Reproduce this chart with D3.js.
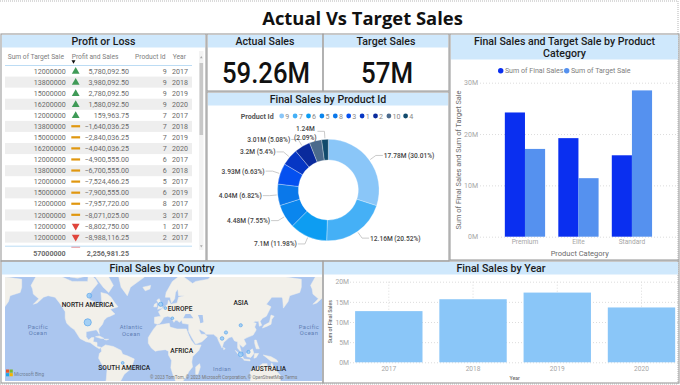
<!DOCTYPE html>
<html>
<head>
<meta charset="utf-8">
<script src="https://cdnjs.cloudflare.com/ajax/libs/d3/7.8.5/d3.min.js"></script>
<style>
    html, body { margin: 0; padding: 0; background: #fff; overflow: hidden; }
    svg { display: block; font-family: Roboto, sans-serif; }
</style>
</head>
<body>
<script>

// table
var tableHeaders = ['Sum of Target Sale', 'Profit and Sales', 'Product Id', 'Year'];
var targetSale = [12000000, 13800000, 15000000, 16200000, 12000000, 13800000, 15000000, 16200000,
                  12000000, 13800000, 12000000, 15000000, 12000000, 12000000, 12000000, 12000000];
var profitSales = [5780092.50, 3980092.50, 2780092.50, 1580092.50, 159963.75, -1640036.25, -2840036.25, -4040036.25,
                   -4900555.00, -6700555.00, -7524466.25, -7900555.00, -7957720.00, -8071025.00, -8802750.00, -8988116.25];
var tableProduct = [9, 9, 9, 9, 7, 7, 7, 7, 6, 6, 5, 6, 8, 3, 1, 2];
var tableYear = [2017, 2018, 2019, 2020, 2017, 2018, 2019, 2020, 2017, 2018, 2017, 2019, 2017, 2017, 2017, 2017];
var totalTarget = '57000000';
var totalProfit = '2,256,981.25';

// donut
var productIds = ['9', '7', '6', '5', '8', '3', '1', '2', '10', '4'];
var productSales = [17.78, 12.16, 7.1, 4.48, 4.04, 3.93, 3.2, 3.01, 2.32, 1.24];
var productPct = ['30.01', '20.52', '11.98', '7.55', '6.82', '6.63', '5.4', '5.08', null, '2.09'];
var productColors = ['#8ac6f8', '#45b0f6', '#0d9df2', '#0a86ee', '#0a78ea', '#0450f0',
                     '#0636c4', '#0a2a9c', '#4b6a8c', '#114a6c'];

// category bars
var categories = ['Premium', 'Elite', 'Standard'];
var categoryFinal = [24.2, 19.2, 15.86];
var categoryTarget = [17.1, 11.4, 28.5];

// year bars
var years = ['2017', '2018', '2019', '2020'];
var yearSales = [12.7, 15.65, 17.3, 13.61];

// map, rough outlines in lon/lat
var landShapes = [
    [[-168,66],[-162,70],[-156,71],[-141,70],[-128,70],[-115,68],[-108,68],[-95,68],[-94,72],[-85,69],[-82,67],[-88,64],[-94,60],[-92,57],[-82,55],[-80,51],[-78,52],[-77,56],[-78,62],[-70,61],[-65,59],[-60,55],[-56,52],[-66,50],[-60,46],[-66,44],[-70,43],[-74,40],[-76,36],[-81,31],[-80,25],[-82,28],[-84,30],[-90,29],[-97,28],[-97,22],[-94,18],[-90,21],[-87,21],[-88,16],[-83,15],[-83,10],[-78,9],[-80,7],[-85,10],[-92,15],[-97,16],[-105,20],[-112,30],[-117,33],[-122,37],[-124,42],[-124,48],[-130,54],[-137,59],[-146,60],[-152,59],[-160,55],[-165,54],[-158,58],[-165,61],[-166,64]],
    [[-73,78],[-60,82],[-30,83],[-18,76],[-22,70],[-40,65],[-44,60],[-52,65],[-55,70]],
    [[-80,73],[-68,70],[-62,66],[-68,62],[-75,65],[-85,70]],
    [[-125,76],[-100,76],[-92,74],[-96,70.5],[-108,69.5],[-118,70],[-124,72]],
    [[-90,76],[-75,76],[-72,72],[-84,71.5]],
    [[-78,8],[-72,12],[-62,10],[-52,5],[-50,0],[-44,-2],[-35,-6],[-37,-12],[-39,-18],[-48,-25],[-53,-33],[-58,-38],[-65,-41],[-68,-50],[-72,-50],[-73,-40],[-71,-30],[-70,-18],[-76,-14],[-81,-5],[-80,1],[-77,4]],
    [[-6,35],[10,37],[11,33],[20,31],[32,31],[35,24],[38,18],[43,12],[51,12],[48,5],[40,-3],[39,-10],[40,-16],[35,-22],[32,-28],[26,-34],[19,-34],[15,-26],[12,-17],[13,-8],[9,-1],[9,4],[5,6],[-4,5],[-8,4],[-13,8],[-17,14],[-17,21],[-13,27],[-10,31]],
    [[-9,37],[-9,43],[-1,44],[-4,48],[2,51],[8,54],[9,57],[12,54],[20,55],[22,59],[30,60],[22,60],[21,64],[24,66],[18,62],[17,58],[13,55],[11,59],[5,59],[6,62],[14,68],[25,71],[40,67],[44,68],[60,69],[68,72],[80,73],[100,77],[113,74],[130,72],[140,73],[160,70],[180,69],[180,65],[178,62],[165,60],[163,56],[157,51],[156,58],[155,59],[142,59],[135,54],[141,52],[135,44],[130,42],[127,39],[129,35],[126,34],[125,39],[121,39],[118,38],[122,37],[120,33],[122,30],[118,24],[110,21],[106,19],[109,13],[105,9],[100,13],[103,2],[98,8],[98,16],[94,17],[91,22],[87,21],[80,15],[78,8],[73,18],[72,21],[67,25],[57,25],[56,27],[50,30],[48,30],[51,25],[56,25],[59,22],[52,16],[44,13],[39,21],[35,28],[35,36],[27,37],[26,40],[23,38],[20,40],[18,40],[16,38],[12,43],[8,44],[3,43],[0,39],[-2,37],[-5,36]],
    [[-5,50],[1,51],[0,54],[-3,58],[-6,57],[-3,54]],
    [[-10,52],[-6,52],[-6,55],[-9,54]],
    [[-24,65],[-14,66],[-15,64],[-21,63]],
    [[130,32],[136,34],[141,36],[142,41],[145,44],[141,45],[139,38],[132,35]],
    [[95,5],[104,-2],[106,-6],[101,-3]],
    [[109,1],[117,7],[119,1],[115,-4],[110,-3]],
    [[106,-6],[114,-7],[114,-8.5],[106,-7.5]],
    [[119,-5],[120,1],[125,1],[122,-4]],
    [[131,-1],[141,-3],[148,-7],[150,-10],[141,-9],[135,-4]],
    [[120,18],[122,18],[124,12],[126,7],[122,7],[120,14]],
    [[114,-22],[122,-18],[130,-12],[136,-12],[136,-15],[140,-17],[142,-11],[146,-19],[153,-26],[153,-38],[115,-38]],
    [[44,-16],[49,-12],[50,-16],[47,-25],[44,-25]],
    [[80,9],[82,7],[80,6]],
    [[-85,22],[-80,23],[-74,20],[-78,20]],
    [[-74,19],[-68,19],[-71,18]]
];
var waterShapes = [
    [[28,42],[31,46],[37,46],[41,42],[35,42]],
    [[47,45],[53,45],[54,38],[50,37],[49,41]]
];
var countryLon = [-95, -93, -1, 5, 14, 102, 83, 78, 102, 112, -50];
var countryLat = [38, 60, 54, 51, 42, 35, 27, 20, 0, 3, -11];
var countrySales = [20, 9, 7, 3, 3, 4, 4, 5, 9, 4, 3];
var mapLabels = [
    {text: 'NORTH AMERICA', lon: -95, lat: 53.6},
    {text: 'EUROPE', lon: 24, lat: 50.5},
    {text: 'ASIA', lon: 102, lat: 55.5},
    {text: 'AFRICA', lon: 26, lat: 5},
    {text: 'SOUTH AMERICA', lon: -48, lat: -16.5},
    {text: 'AUSTRALIA', lon: 138, lat: -18}
];
var oceanLabels = [
    {lines: ['Pacific', 'Ocean'], lon: -159, lat: 30},
    {lines: ['Atlantic', 'Ocean'], lon: -39, lat: 29},
    {lines: ['Indian'], lon: 78, lat: -18},
    {lines: ['Pacific', 'Ocean'], lon: 190, lat: 30}
];

var titleBlue = '#cfe8fc',
    borderGray = '#a3a3a3',
    axisGray = '#a6a6a6',
    textGray = '#6b6b6b',
    gridGray = '#dcdcdc';

var svg = d3.select('body').append('svg')
    .attr('width', 680)
    .attr('height', 385);

svg.append('rect').attr('width', 680).attr('height', 385).attr('fill', '#fff');

// dotted page edge
svg.append('path')
    .attr('d', 'M0,1H678V384H0')
    .attr('fill', 'none')
    .attr('stroke', '#b5b5b5')
    .attr('stroke-dasharray', '1,1');

svg.append('text')
    .attr('x', 362.5)
    .attr('y', 25)
    .attr('text-anchor', 'middle')
    .attr('font-family', '"Open Sans", sans-serif')
    .attr('font-weight', 700)
    .attr('font-size', 18.4)
    .attr('fill', '#111')
    .text('Actual Vs Target Sales');

var panel = function(x, y, w, h, barH, lines) {
    svg.append('rect')
        .attr('x', x + 1).attr('y', y + 1)
        .attr('width', w - 2).attr('height', barH)
        .attr('fill', titleBlue);
    svg.append('rect')
        .attr('x', x).attr('y', y)
        .attr('width', w).attr('height', h)
        .attr('fill', 'none')
        .attr('stroke', borderGray)
        .attr('stroke-width', 1.2);
    lines.forEach(function(t, i) {
        svg.append('text')
            .attr('x', x + w / 2)
            .attr('y', y + 11 + i * 12)
            .attr('text-anchor', 'middle')
            .attr('font-weight', 500)
            .attr('font-size', 10.6)
            .attr('fill', '#1b1b1b')
            .text(t);
    });
};

panel(1, 34, 205, 227, 12.5, ['Profit or Loss']);
panel(207, 34, 116, 57, 12.5, ['Actual Sales']);
panel(323, 34, 126, 57, 12.5, ['Target Sales']);
panel(207, 92, 242, 169, 12.5, ['Final Sales by Product Id']);
panel(450, 34, 229, 226, 24.5, ['Final Sales and Target Sale by Product', 'Category']);
panel(1, 261, 322, 122, 12.5, ['Final Sales by Country']);
panel(323, 261, 356, 122, 12.5, ['Final Sales by Year']);

/** kpi cards **/

var kpi = function(x, label, len) {
    svg.append('text')
        .attr('x', x).attr('y', 83)
        .attr('text-anchor', 'middle')
        .attr('font-weight', 500)
        .attr('font-size', 29.5)
        .attr('textLength', len)
        .attr('lengthAdjust', 'spacingAndGlyphs')
        .attr('fill', '#111')
        .text(label);
};
kpi(266, '59.26M', 88);
kpi(387, '57M', 52);

/** table **/

var drawTable = function() {
    var rowY = d3.scaleLinear().domain([0, 1]).range([71, 82.07]),
        fmt = d3.format(',.2f'),
        cols = [65.7, 129, 166.7, 188];

    var g = svg.append('g')
        .attr('font-size', 7.1)
        .attr('fill', textGray);

    var headerX = [7.7, 71.7, 135, 172.7];
    tableHeaders.forEach(function(h, i) {
        g.append('text').attr('x', headerX[i]).attr('y', 58.5)
            .attr('font-size', 6.7).attr('fill', '#808080').text(h);
    });
    g.append('path')
        .attr('d', d3.symbol(d3.symbolTriangle, 7)())
        .attr('transform', 'translate(73.5,61.5) rotate(180)')
        .attr('fill', '#111');
    g.append('line')
        .attr('x1', 5).attr('x2', 192).attr('y1', 65.5).attr('y2', 65.5)
        .attr('stroke', '#bcdcf4');

    var rows = g.selectAll('.row')
        .data(targetSale)
        .enter().append('g')
        .attr('class', 'row')
        .attr('transform', function(d, i) { return 'translate(0,' + rowY(i) + ')'; });

    rows.filter(function(d, i) { return i % 2 === 1; })
        .append('rect')
        .attr('x', 5).attr('y', -5.5)
        .attr('width', 187).attr('height', 11.07)
        .attr('fill', '#eeeeee');

    rows.append('text')
        .attr('x', cols[0]).attr('y', 2.6).attr('text-anchor', 'end')
        .text(function(d) { return d; });
    rows.append('text')
        .attr('x', cols[1]).attr('y', 2.6).attr('text-anchor', 'end')
        .text(function(d, i) { return fmt(profitSales[i]); });
    rows.append('text')
        .attr('x', cols[2]).attr('y', 2.6).attr('text-anchor', 'end')
        .text(function(d, i) { return tableProduct[i]; });
    rows.append('text')
        .attr('x', cols[3]).attr('y', 2.6).attr('text-anchor', 'end')
        .text(function(d, i) { return tableYear[i]; });

    // status icon comes from the profit value
    rows.each(function(d, i) {
        var v = profitSales[i], row = d3.select(this);
        if (v > 0) {
            row.append('path')
                .attr('d', d3.symbol(d3.symbolTriangle, 26)())
                .attr('transform', 'translate(75.7,0.5)')
                .attr('fill', '#3f9a57');
        } else if (v > -8500000) {
            row.append('rect')
                .attr('x', 71.3).attr('y', -1.2)
                .attr('width', 8.8).attr('height', 2.2)
                .attr('fill', '#e0970f');
        } else {
            row.append('path')
                .attr('d', d3.symbol(d3.symbolTriangle, 26)())
                .attr('transform', 'translate(75.7,0) rotate(180)')
                .attr('fill', '#e0453c');
        }
    });

    // top of the next row's icon shows under the last row
    g.append('rect')
        .attr('x', 71.3).attr('y', 246.5)
        .attr('width', 8.8).attr('height', 1)
        .attr('fill', '#d9606a');

    g.append('line')
        .attr('x1', 5).attr('x2', 192).attr('y1', 246.2).attr('y2', 246.2)
        .attr('stroke', '#bcdcf4');

    g.append('text').attr('x', cols[0]).attr('y', 255.5).attr('text-anchor', 'end')
        .attr('font-weight', 700).text(totalTarget);
    g.append('text').attr('x', cols[1]).attr('y', 255.5).attr('text-anchor', 'end')
        .attr('font-weight', 700).text(totalProfit);

    // scrollbar
    g.append('rect').attr('x', 199).attr('y', 51).attr('width', 4.5).attr('height', 199)
        .attr('fill', '#f3f3f3');
    g.append('rect').attr('x', 199.5).attr('y', 63).attr('width', 3.6).attr('height', 72)
        .attr('fill', '#c8c8c8');
    g.append('path')
        .attr('d', d3.symbol(d3.symbolTriangle, 3)())
        .attr('transform', 'translate(201.3,57.5)')
        .attr('fill', '#aaa');
    g.append('path')
        .attr('d', d3.symbol(d3.symbolTriangle, 3)())
        .attr('transform', 'translate(201.3,246) rotate(180)')
        .attr('fill', '#aaa');
};
drawTable();

/** donut **/

var drawDonut = function() {
    var cx = 328.3, cy = 190, outer = 50.8, inner = 30;

    var pie = d3.pie().sort(null).value(function(d) { return d; });
    var arc = d3.arc().innerRadius(inner).outerRadius(outer);
    var arcs = pie(productSales);

    var g = svg.append('g').attr('transform', 'translate(' + cx + ',' + cy + ')');

    g.selectAll('.slice')
        .data(arcs)
        .enter().append('path')
        .attr('class', 'slice')
        .attr('d', arc)
        .attr('fill', function(d, i) { return productColors[i]; })
        .attr('stroke', '#fff')
        .attr('stroke-width', 0.3);

    var polar = function(a, r) { return [Math.sin(a) * r, -Math.cos(a) * r]; };

    arcs.forEach(function(d, i) {
        if (productPct[i] === null) return;
        var mid = (d.startAngle + d.endAngle) / 2,
            p0 = polar(mid, outer + 1),
            p1 = polar(mid, outer + 8),
            side = p1[0] >= 0 ? 1 : -1,
            two = (i === productIds.length - 1),
            p2 = [p1[0] + side * 7, p1[1]];

        g.append('path')
            .attr('d', d3.line()([p0, p1, two ? [p1[0] - 7, p1[1]] : p2]))
            .attr('fill', 'none')
            .attr('stroke', '#bdbdbd')
            .attr('stroke-width', 0.8);

        var t = g.append('text')
            .attr('font-size', 6.6)
            .attr('font-weight', 500)
            .attr('fill', '#444');
        var label = productSales[i] + 'M', pct = '(' + productPct[i] + '%)';

        if (two) {
            t.attr('text-anchor', 'middle');
            t.append('tspan').attr('x', -23).attr('y', p1[1] - 0.5).text(label);
            t.append('tspan').attr('x', -23).attr('y', p1[1] + 8.5).text(pct);
        } else {
            t.attr('x', side > 0 ? p2[0] + 1 : p2[0] - 1)
                .attr('y', p2[1] + 2.5)
                .attr('text-anchor', side > 0 ? 'start' : 'end')
                .text(label + ' ' + pct);
        }
    });

    var lg = svg.append('g').attr('font-size', 7.1);
    lg.append('text').attr('x', 240.7).attr('y', 118.5)
        .attr('font-weight', 700).attr('fill', '#555').text('Product Id');
    // each key is as wide as its label
    var keyX = 281.7;
    productIds.forEach(function(id, i) {
        var item = lg.append('g').attr('transform', 'translate(' + keyX + ',116)');
        item.append('circle').attr('r', 2.4).attr('fill', productColors[i]);
        item.append('text').attr('x', 3.6).attr('y', 2.5).attr('fill', '#888').text(id);
        keyX += 10.1 + 3.3 * id.length;
    });
};
drawDonut();

var styleAxis = function(sel, size) {
    sel.select('.domain').remove();
    sel.selectAll('line').attr('stroke', gridGray).attr('stroke-dasharray', '1,2');
    sel.selectAll('text')
        .attr('fill', axisGray)
        .attr('font-size', size)
        .attr('font-family', 'Roboto, sans-serif');
};

/** grouped bars **/

var drawCategoryBars = function() {
    var x = d3.scaleBand().domain(categories).range([498.2, 658.7]).paddingInner(0.247).paddingOuter(0.124),
        y = d3.scaleLinear().domain([0, 30]).range([236.7, 82.7]),
        inner = d3.scaleBand().domain([0, 1]).range([0, x.bandwidth()]);

    svg.append('g')
        .attr('transform', 'translate(480,0)')
        .call(d3.axisLeft(y).tickValues([0, 10, 20, 30]).tickSize(-196).tickPadding(2)
            .tickFormat(function(d) { return d + 'M'; }))
        .call(styleAxis, 7);

    svg.append('g')
        .attr('transform', 'translate(0,236.7)')
        .call(d3.axisBottom(x).tickSize(0).tickPadding(3))
        .call(styleAxis, 6.6);

    [categoryFinal, categoryTarget].forEach(function(series, s) {
        svg.selectAll('.cat' + s)
            .data(series)
            .enter().append('rect')
            .attr('class', 'cat' + s)
            .attr('x', function(d, i) { return x(categories[i]) + inner(s); })
            .attr('width', inner.bandwidth())
            .attr('y', function(d) { return y(d); })
            .attr('height', function(d) { return y(0) - y(d); })
            .attr('fill', s === 0 ? '#0a2ff0' : '#5591ef');
    });

    svg.append('text').attr('x', 579.7).attr('y', 255.5)
        .attr('text-anchor', 'middle').attr('font-size', 7.5).attr('fill', textGray)
        .text('Product Category');
    svg.append('text')
        .attr('transform', 'translate(460.5,160) rotate(-90)')
        .attr('text-anchor', 'middle').attr('font-size', 7.4).attr('fill', textGray)
        .text('Sum of Final Sales and Sum of Target Sale');

    var keys = [
        {name: 'Sum of Final Sales', x: 500.7, color: '#0a2ff0'},
        {name: 'Sum of Target Sale', x: 566.7, color: '#5591ef'}
    ];
    keys.forEach(function(k) {
        svg.append('circle').attr('cx', k.x).attr('cy', 70.7).attr('r', 2.7).attr('fill', k.color);
        svg.append('text').attr('x', k.x + 4.2).attr('y', 73.2)
            .attr('font-size', 7.1).attr('fill', '#808080').text(k.name);
    });
};
drawCategoryBars();

/** year bars **/

var drawYearBars = function() {
    var x = d3.scaleBand().domain(years).range([346.7, 683.6]).paddingInner(0.2).paddingOuter(0.1),
        y = d3.scaleLinear().domain([0, 20]).range([362.3, 281.7]);

    svg.append('g')
        .attr('transform', 'translate(350,0)')
        .call(d3.axisLeft(y).ticks(4).tickSize(-328).tickPadding(1)
            .tickFormat(function(d) { return d + 'M'; }))
        .call(styleAxis, 6.8);

    svg.append('g')
        .attr('transform', 'translate(0,362.3)')
        .call(d3.axisBottom(x).tickSize(80.6).tickPadding(-74))
        .call(function(sel) {
            sel.select('.domain').remove();
            sel.selectAll('line')
                .attr('transform', 'translate(0,-80.6)')
                .attr('stroke', gridGray).attr('stroke-dasharray', '1,2');
            sel.selectAll('text')
                .attr('y', 4).attr('dy', '0.71em')
                .attr('fill', axisGray).attr('font-size', 6.6)
                .attr('font-family', 'Roboto, sans-serif');
        });

    svg.selectAll('.yearbar')
        .data(yearSales)
        .enter().append('rect')
        .attr('class', 'yearbar')
        .attr('x', function(d, i) { return x(years[i]); })
        .attr('width', x.bandwidth())
        .attr('y', function(d) { return y(d); })
        .attr('height', function(d) { return y(0) - y(d); })
        .attr('fill', '#8ac6f8');

    svg.append('text').attr('x', 514.7).attr('y', 379.5)
        .attr('text-anchor', 'middle').attr('font-size', 5.2).attr('font-weight', 500)
        .attr('fill', textGray).text('Year');
    svg.append('text')
        .attr('transform', 'translate(332,321.7) rotate(-90)')
        .attr('text-anchor', 'middle').attr('font-size', 5.2).attr('font-weight', 500)
        .attr('fill', textGray).text('Sum of Final Sales');
};
drawYearBars();

/** map **/

var drawMap = function() {
    var left = 5, top = 277, w = 317, h = 104;

    var mapX = d3.scaleLinear().domain([-180, 180]).range([161.5 - 139.8, 161.5 + 139.8]);
    var mercator = function(lat) { return Math.log(Math.tan(Math.PI / 4 + lat * Math.PI / 360)); };
    var mapY = d3.scaleLinear().domain([0, 1]).range([354.3, 354.3 - 44.5]);
    var line = d3.line()
        .x(function(d) { return mapX(d[0]); })
        .y(function(d) { return mapY(mercator(d[1])); })
        .curve(d3.curveLinearClosed);

    svg.append('clipPath').attr('id', 'mapclip')
        .append('rect').attr('x', left).attr('y', top).attr('width', w).attr('height', h);

    var g = svg.append('g').attr('clip-path', 'url(#mapclip)');

    g.append('rect').attr('x', left).attr('y', top).attr('width', w).attr('height', h)
        .attr('fill', '#abc6ef');

    // the world repeats either side of the view
    [-279.6, 0, 279.6].forEach(function(dx) {
        var world = g.append('g').attr('transform', 'translate(' + dx + ',0)');
        world.selectAll('.land')
            .data(landShapes)
            .enter().append('path')
            .attr('class', 'land')
            .attr('d', line)
            .attr('fill', '#f2f0ea')
            .attr('stroke', '#f2f0ea')
            .attr('stroke-width', 0.5)
            .attr('stroke-linejoin', 'round');
        world.selectAll('.water')
            .data(waterShapes)
            .enter().append('path')
            .attr('class', 'water')
            .attr('d', line)
            .attr('fill', '#abc6ef');
    });

    var r = d3.scaleSqrt().domain([0, 20]).range([0, 3.6]);
    g.selectAll('.bubble')
        .data(countrySales)
        .enter().append('circle')
        .attr('class', 'bubble')
        .attr('cx', function(d, i) { return mapX(countryLon[i]); })
        .attr('cy', function(d, i) { return mapY(mercator(countryLat[i])); })
        .attr('r', function(d) { return r(d); })
        .attr('fill', '#8ac6f8')
        .attr('fill-opacity', 0.75)
        .attr('stroke', '#5ea6ea')
        .attr('stroke-width', 0.7);

    g.selectAll('.continent')
        .data(mapLabels)
        .enter().append('text')
        .attr('class', 'continent')
        .attr('x', function(d) { return mapX(d.lon); })
        .attr('y', function(d) { return mapY(mercator(d.lat)) + 2.3; })
        .attr('text-anchor', 'middle')
        .attr('font-size', 6.6)
        .attr('font-weight', 500)
        .attr('fill', '#222')
        .text(function(d) { return d.text; });

    oceanLabels.forEach(function(d) {
        d.lines.forEach(function(t, i) {
            g.append('text')
                .attr('x', mapX(d.lon))
                .attr('y', mapY(mercator(d.lat)) + (i - (d.lines.length - 1) / 2) * 6.5 + 2)
                .attr('text-anchor', 'middle')
                .attr('font-size', 5.8)
                .attr('letter-spacing', 0.4)
                .attr('fill', '#5f7fb4')
                .text(t);
        });
    });

    // bing mark and attribution
    var logoColors = ['#e8552b', '#7cb82f', '#1ea5e8', '#f4b400'];
    logoColors.forEach(function(c, i) {
        g.append('rect')
            .attr('x', 6 + (i % 2) * 3.6)
            .attr('y', 369.5 + Math.floor(i / 2) * 3.6)
            .attr('width', 3.2).attr('height', 3.2)
            .attr('fill', c);
    });
    g.append('text').attr('x', 14).attr('y', 375.5)
        .attr('font-size', 4.6).attr('fill', '#6f7f95').text('Microsoft Bing');
    g.append('text').attr('x', 150).attr('y', 378.5)
        .attr('font-size', 4.5).attr('fill', '#777')
        .text('\u00a9 2023 TomTom, \u00a9 2023 Microsoft Corporation, \u00a9 OpenStreetMap   Terms');
};
drawMap();

</script>
</body>
</html>
